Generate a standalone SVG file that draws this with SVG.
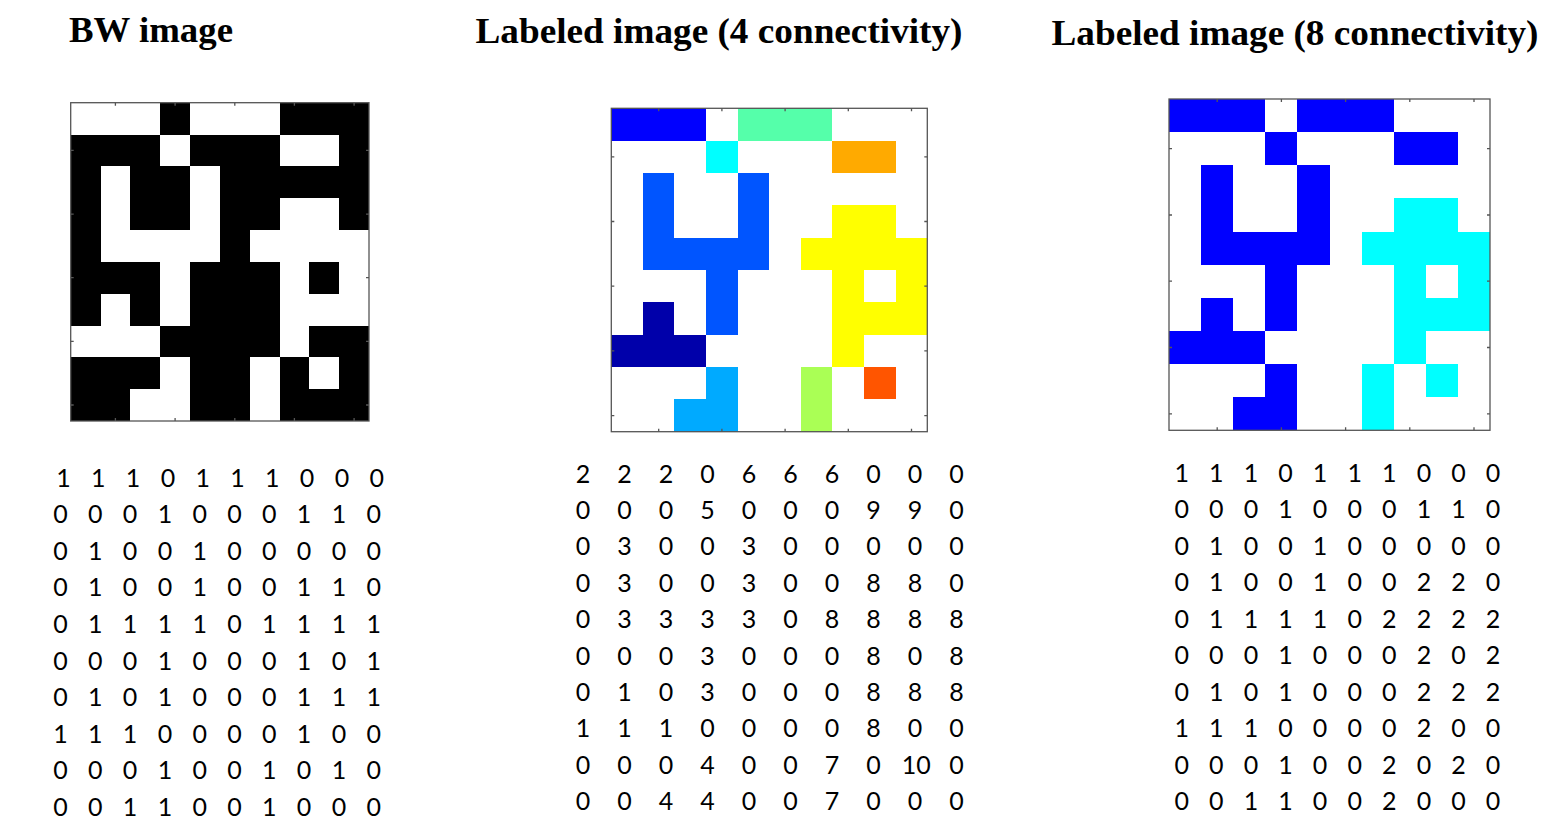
<svg xmlns="http://www.w3.org/2000/svg" width="1552" height="826" viewBox="0 0 1552 826">
<style>
.title{font-family:"Liberation Serif","Times New Roman",serif;font-weight:bold;font-size:36px;fill:#000}
.num{font-family:Lato,"Open Sans",sans-serif;font-size:25px;fill:#000;text-anchor:middle}
.frame{fill:none;stroke:#555;stroke-width:1.3}
.tick{fill:none;stroke:#555;stroke-width:1.3}
.cells rect{shape-rendering:crispEdges}
.w{fill:#fff}.k{fill:#000}
.l1{fill:#0000AA}.l2{fill:#0000FF}.l3{fill:#0055FF}.l4{fill:#00AAFF}.l5{fill:#00FFFF}
.l6{fill:#55FFAA}.l7{fill:#AAFF55}.l8{fill:#FFFF00}.l9{fill:#FFAA00}.l10{fill:#FF5500}
</style>
<rect width="1552" height="826" fill="#fff"/>

<g id="bw-panel">
<text class="title" x="69" y="42" textLength="164" lengthAdjust="spacingAndGlyphs">BW image</text>
<g id="bw-image">
<g class="cells" transform="translate(70.7 102.7) scale(29.83 31.83)">
<rect class="k" x="0" y="0" width="10" height="10"/>
<g class="w">
<rect x="0" y="0" width="3" height="1"/><rect x="4" y="0" width="3" height="1"/>
<rect x="3" y="1" width="1" height="1"/><rect x="7" y="1" width="2" height="1"/>
<rect x="1" y="2" width="1" height="3"/><rect x="4" y="2" width="1" height="3"/>
<rect x="7" y="3" width="2" height="1"/>
<rect x="2" y="4" width="2" height="1"/><rect x="6" y="4" width="4" height="1"/>
<rect x="3" y="5" width="1" height="2"/><rect x="7" y="5" width="1" height="3"/><rect x="9" y="5" width="1" height="1"/>
<rect x="1" y="6" width="1" height="1"/><rect x="8" y="6" width="2" height="1"/>
<rect x="0" y="7" width="3" height="1"/>
<rect x="3" y="8" width="1" height="1"/><rect x="6" y="8" width="1" height="2"/><rect x="8" y="8" width="1" height="1"/>
<rect x="2" y="9" width="2" height="1"/>
</g>
</g>
<rect class="frame" x="70.7" y="102.7" width="298.3" height="318.3"/>
<path class="tick" d="M115.4 102.7v3M175.1 102.7v3M234.8 102.7v3M294.4 102.7v3M354.1 102.7v3M115.4 421v-3M175.1 421v-3M234.8 421v-3M294.4 421v-3M354.1 421v-3M70.7 150.4h3M70.7 214.1h3M70.7 277.7h3M70.7 341.4h3M70.7 405h3M369 150.4h-3M369 214.1h-3M369 277.7h-3M369 341.4h-3M369 405h-3"/>
</g>
<g id="bw-matrix">
<text class="num" x="63.5 80.9 98.3 115.7 133.1 150.5 167.9 185.3 202.7 220.1 237.5 254.9 272.3 289.7 307.1 324.5 341.9 359.3 376.7" y="486.5">1 1 1 0 1 1 1 0 0 0</text>
<text class="num" x="60.5 77.9 95.3 112.7 130.1 147.5 164.9 182.3 199.7 217.1 234.5 251.9 269.3 286.7 304.1 321.5 338.9 356.3 373.7" y="523.1">0 0 0 1 0 0 0 1 1 0</text>
<text class="num" x="60.5 77.9 95.3 112.7 130.1 147.5 164.9 182.3 199.7 217.1 234.5 251.9 269.3 286.7 304.1 321.5 338.9 356.3 373.7" y="559.7">0 1 0 0 1 0 0 0 0 0</text>
<text class="num" x="60.5 77.9 95.3 112.7 130.1 147.5 164.9 182.3 199.7 217.1 234.5 251.9 269.3 286.7 304.1 321.5 338.9 356.3 373.7" y="596.3">0 1 0 0 1 0 0 1 1 0</text>
<text class="num" x="60.5 77.9 95.3 112.7 130.1 147.5 164.9 182.3 199.7 217.1 234.5 251.9 269.3 286.7 304.1 321.5 338.9 356.3 373.7" y="632.9">0 1 1 1 1 0 1 1 1 1</text>
<text class="num" x="60.5 77.9 95.3 112.7 130.1 147.5 164.9 182.3 199.7 217.1 234.5 251.9 269.3 286.7 304.1 321.5 338.9 356.3 373.7" y="669.5">0 0 0 1 0 0 0 1 0 1</text>
<text class="num" x="60.5 77.9 95.3 112.7 130.1 147.5 164.9 182.3 199.7 217.1 234.5 251.9 269.3 286.7 304.1 321.5 338.9 356.3 373.7" y="706.1">0 1 0 1 0 0 0 1 1 1</text>
<text class="num" x="60.5 77.9 95.3 112.7 130.1 147.5 164.9 182.3 199.7 217.1 234.5 251.9 269.3 286.7 304.1 321.5 338.9 356.3 373.7" y="742.7">1 1 1 0 0 0 0 1 0 0</text>
<text class="num" x="60.5 77.9 95.3 112.7 130.1 147.5 164.9 182.3 199.7 217.1 234.5 251.9 269.3 286.7 304.1 321.5 338.9 356.3 373.7" y="779.3">0 0 0 1 0 0 1 0 1 0</text>
<text class="num" x="60.5 77.9 95.3 112.7 130.1 147.5 164.9 182.3 199.7 217.1 234.5 251.9 269.3 286.7 304.1 321.5 338.9 356.3 373.7" y="815.9">0 0 1 1 0 0 1 0 0 0</text>
</g>
</g>

<g id="label4-panel">
<text class="title" x="475.5" y="43" textLength="487" lengthAdjust="spacingAndGlyphs">Labeled image (4 connectivity)</text>
<g id="label4-image">
<g class="cells" transform="translate(611.3 108.3) scale(31.6 32.34)">
<rect class="w" x="0" y="0" width="10" height="10"/>
<rect class="l1" x="1" y="6" width="1" height="1"/><rect class="l1" x="0" y="7" width="3" height="1"/>
<rect class="l2" x="0" y="0" width="3" height="1"/>
<rect class="l3" x="1" y="2" width="1" height="3"/><rect class="l3" x="4" y="2" width="1" height="3"/><rect class="l3" x="2" y="4" width="2" height="1"/><rect class="l3" x="3" y="5" width="1" height="2"/>
<rect class="l4" x="3" y="8" width="1" height="1"/><rect class="l4" x="2" y="9" width="2" height="1"/>
<rect class="l5" x="3" y="1" width="1" height="1"/>
<rect class="l6" x="4" y="0" width="3" height="1"/>
<rect class="l7" x="6" y="8" width="1" height="2"/>
<rect class="l8" x="7" y="3" width="2" height="1"/><rect class="l8" x="6" y="4" width="4" height="1"/><rect class="l8" x="7" y="5" width="1" height="3"/><rect class="l8" x="9" y="5" width="1" height="1"/><rect class="l8" x="8" y="6" width="2" height="1"/>
<rect class="l9" x="7" y="1" width="2" height="1"/>
<rect class="l10" x="8" y="8" width="1" height="1"/>
</g>
<rect class="frame" x="611.3" y="108.3" width="316" height="323.4"/>
<path class="tick" d="M658.7 108.3v3M721.9 108.3v3M785.1 108.3v3M848.3 108.3v3M911.5 108.3v3M658.7 431.7v-3M721.9 431.7v-3M785.1 431.7v-3M848.3 431.7v-3M911.5 431.7v-3M611.3 156.8h3M611.3 221.5h3M611.3 286.2h3M611.3 350.9h3M611.3 415.6h3M927.3 156.8h-3M927.3 221.5h-3M927.3 286.2h-3M927.3 350.9h-3M927.3 415.6h-3"/>
</g>
<g id="label4-matrix">
<text class="num" x="583 603.75 624.5 645.25 666 686.75 707.5 728.25 749 769.75 790.5 811.25 832 852.75 873.5 894.25 915 935.75 956.5" y="482.5">2 2 2 0 6 6 6 0 0 0</text>
<text class="num" x="583 603.75 624.5 645.25 666 686.75 707.5 728.25 749 769.75 790.5 811.25 832 852.75 873.5 894.25 915 935.75 956.5" y="518.9">0 0 0 5 0 0 0 9 9 0</text>
<text class="num" x="583 603.75 624.5 645.25 666 686.75 707.5 728.25 749 769.75 790.5 811.25 832 852.75 873.5 894.25 915 935.75 956.5" y="555.3">0 3 0 0 3 0 0 0 0 0</text>
<text class="num" x="583 603.75 624.5 645.25 666 686.75 707.5 728.25 749 769.75 790.5 811.25 832 852.75 873.5 894.25 915 935.75 956.5" y="591.7">0 3 0 0 3 0 0 8 8 0</text>
<text class="num" x="583 603.75 624.5 645.25 666 686.75 707.5 728.25 749 769.75 790.5 811.25 832 852.75 873.5 894.25 915 935.75 956.5" y="628.1">0 3 3 3 3 0 8 8 8 8</text>
<text class="num" x="583 603.75 624.5 645.25 666 686.75 707.5 728.25 749 769.75 790.5 811.25 832 852.75 873.5 894.25 915 935.75 956.5" y="664.5">0 0 0 3 0 0 0 8 0 8</text>
<text class="num" x="583 603.75 624.5 645.25 666 686.75 707.5 728.25 749 769.75 790.5 811.25 832 852.75 873.5 894.25 915 935.75 956.5" y="700.9">0 1 0 3 0 0 0 8 8 8</text>
<text class="num" x="583 603.75 624.5 645.25 666 686.75 707.5 728.25 749 769.75 790.5 811.25 832 852.75 873.5 894.25 915 935.75 956.5" y="737.3">1 1 1 0 0 0 0 8 0 0</text>
<text class="num" x="583 603.75 624.5 645.25 666 686.75 707.5 728.25 749 769.75 790.5 811.25 832 852.75 873.5 894.25 909 923.6 940 956.5" y="773.7">0 0 0 4 0 0 7 0 10 0</text>
<text class="num" x="583 603.75 624.5 645.25 666 686.75 707.5 728.25 749 769.75 790.5 811.25 832 852.75 873.5 894.25 915 935.75 956.5" y="810.1">0 0 4 4 0 0 7 0 0 0</text>
</g>
</g>

<g id="label8-panel">
<text class="title" x="1051.5" y="44.5" textLength="487" lengthAdjust="spacingAndGlyphs">Labeled image (8 connectivity)</text>
<g id="label8-image">
<g class="cells" transform="translate(1169 99) scale(32.1 33.13)">
<rect class="w" x="0" y="0" width="10" height="10"/>
<g class="l2">
<rect x="0" y="0" width="3" height="1"/><rect x="4" y="0" width="3" height="1"/>
<rect x="3" y="1" width="1" height="1"/><rect x="7" y="1" width="2" height="1"/>
<rect x="1" y="2" width="1" height="3"/><rect x="4" y="2" width="1" height="3"/>
<rect x="2" y="4" width="2" height="1"/><rect x="3" y="5" width="1" height="2"/>
<rect x="1" y="6" width="1" height="1"/><rect x="0" y="7" width="3" height="1"/>
<rect x="3" y="8" width="1" height="1"/><rect x="2" y="9" width="2" height="1"/>
</g>
<g class="l5">
<rect x="7" y="3" width="2" height="1"/><rect x="6" y="4" width="4" height="1"/>
<rect x="7" y="5" width="1" height="3"/><rect x="9" y="5" width="1" height="1"/>
<rect x="8" y="6" width="2" height="1"/><rect x="6" y="8" width="1" height="2"/>
<rect x="8" y="8" width="1" height="1"/>
</g>
</g>
<rect class="frame" x="1169" y="99" width="321" height="331.3"/>
<path class="tick" d="M1217.2 99v3M1281.4 99v3M1345.6 99v3M1409.8 99v3M1474 99v3M1217.2 430.3v-3M1281.4 430.3v-3M1345.6 430.3v-3M1409.8 430.3v-3M1474 430.3v-3M1169 148.7h3M1169 215h3M1169 281.2h3M1169 347.5h3M1169 413.8h3M1490 148.7h-3M1490 215h-3M1490 281.2h-3M1490 347.5h-3M1490 413.8h-3"/>
</g>
<g id="label8-matrix">
<text class="num" x="1181.7 1199 1216.3 1233.6 1250.9 1268.2 1285.5 1302.8 1320.1 1337.4 1354.7 1372 1389.3 1406.6 1423.9 1441.2 1458.5 1475.8 1493.1" y="482">1 1 1 0 1 1 1 0 0 0</text>
<text class="num" x="1181.7 1199 1216.3 1233.6 1250.9 1268.2 1285.5 1302.8 1320.1 1337.4 1354.7 1372 1389.3 1406.6 1423.9 1441.2 1458.5 1475.8 1493.1" y="518.45">0 0 0 1 0 0 0 1 1 0</text>
<text class="num" x="1181.7 1199 1216.3 1233.6 1250.9 1268.2 1285.5 1302.8 1320.1 1337.4 1354.7 1372 1389.3 1406.6 1423.9 1441.2 1458.5 1475.8 1493.1" y="554.9">0 1 0 0 1 0 0 0 0 0</text>
<text class="num" x="1181.7 1199 1216.3 1233.6 1250.9 1268.2 1285.5 1302.8 1320.1 1337.4 1354.7 1372 1389.3 1406.6 1423.9 1441.2 1458.5 1475.8 1493.1" y="591.35">0 1 0 0 1 0 0 2 2 0</text>
<text class="num" x="1181.7 1199 1216.3 1233.6 1250.9 1268.2 1285.5 1302.8 1320.1 1337.4 1354.7 1372 1389.3 1406.6 1423.9 1441.2 1458.5 1475.8 1493.1" y="627.8">0 1 1 1 1 0 2 2 2 2</text>
<text class="num" x="1181.7 1199 1216.3 1233.6 1250.9 1268.2 1285.5 1302.8 1320.1 1337.4 1354.7 1372 1389.3 1406.6 1423.9 1441.2 1458.5 1475.8 1493.1" y="664.25">0 0 0 1 0 0 0 2 0 2</text>
<text class="num" x="1181.7 1199 1216.3 1233.6 1250.9 1268.2 1285.5 1302.8 1320.1 1337.4 1354.7 1372 1389.3 1406.6 1423.9 1441.2 1458.5 1475.8 1493.1" y="700.7">0 1 0 1 0 0 0 2 2 2</text>
<text class="num" x="1181.7 1199 1216.3 1233.6 1250.9 1268.2 1285.5 1302.8 1320.1 1337.4 1354.7 1372 1389.3 1406.6 1423.9 1441.2 1458.5 1475.8 1493.1" y="737.15">1 1 1 0 0 0 0 2 0 0</text>
<text class="num" x="1181.7 1199 1216.3 1233.6 1250.9 1268.2 1285.5 1302.8 1320.1 1337.4 1354.7 1372 1389.3 1406.6 1423.9 1441.2 1458.5 1475.8 1493.1" y="773.6">0 0 0 1 0 0 2 0 2 0</text>
<text class="num" x="1181.7 1199 1216.3 1233.6 1250.9 1268.2 1285.5 1302.8 1320.1 1337.4 1354.7 1372 1389.3 1406.6 1423.9 1441.2 1458.5 1475.8 1493.1" y="810.05">0 0 1 1 0 0 2 0 0 0</text>
</g>
</g>
</svg>
